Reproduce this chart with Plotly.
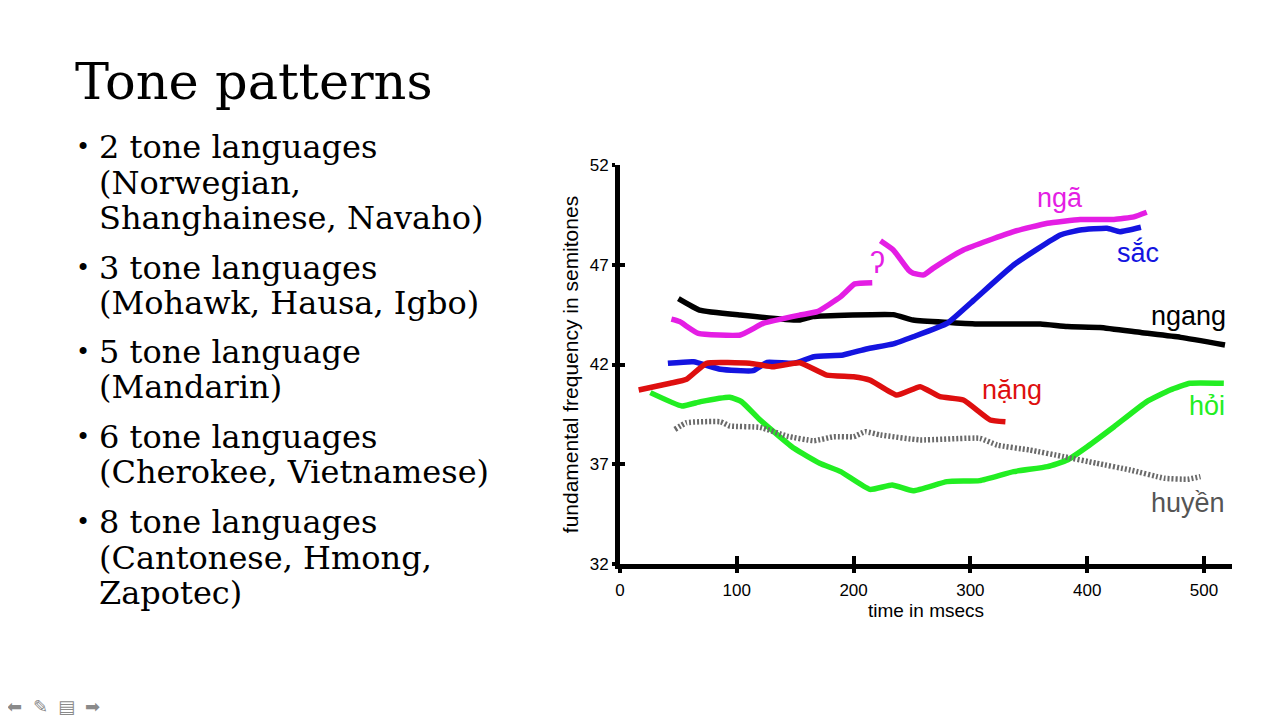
import plotly.graph_objects as go

# ---- data (time in ms, fundamental frequency in semitones) ----
ngang_t = [50, 68, 103, 154, 165, 234, 251, 306, 360, 383, 411, 446, 480, 518]
ngang_f = [45.3, 44.73, 44.48, 44.23, 44.4, 44.5, 44.23, 44.03, 44.03, 43.9, 43.86, 43.6, 43.36, 42.98]

nga_t = [44, 51, 67, 103, 123, 154, 169, 189, 201, 216, None,
         223, 234, 247, 251, 260, 268, 294, 337, 366, 394, 423, 440, 451]
nga_f = [44.27, 44.15, 43.56, 43.48, 44.07, 44.48, 44.65, 45.4, 46.04, 46.1, None,
         48.2, 47.74, 46.74, 46.57, 46.49, 46.82, 47.74, 48.66, 49.08, 49.27, 49.27, 49.4, 49.63]

sac_t = [41, 63, 86, 114, 126, 149, 166, 191, 211, 234, 251, 280, 303, 337, 377, 394, 417, 428, 446]
sac_f = [42.06, 42.14, 41.76, 41.69, 42.11, 42.06, 42.39, 42.48, 42.78, 43.03, 43.39, 44.06,
         45.23, 46.99, 48.49, 48.74, 48.83, 48.66, 48.88]

nang_t = [16, 43, 57, 74, 111, 131, 154, 177, 200, 214, 237, 257, 274, 294, 317, 330]
nang_f = [40.72, 41.06, 41.26, 42.06, 42.06, 41.89, 42.09, 41.47, 41.39, 41.22, 40.47, 40.89,
          40.39, 40.22, 39.22, 39.13]

hoi_t = [26, 53, 69, 94, 104, 120, 149, 171, 189, 214, 233, 251, 280, 308, 337, 366, 383,
         400, 423, 451, 471, 488, 517]
hoi_f = [40.59, 39.92, 40.14, 40.36, 40.14, 39.22, 37.8, 37.05, 36.63, 35.74, 35.96, 35.67,
         36.13, 36.18, 36.63, 36.88, 37.21, 37.88, 38.88, 40.14, 40.72, 41.06, 41.06]

huyen_t = [47, 57, 86, 94, 120, 143, 166, 183, 200, 210, 223, 257, 308, 323, 351, 380, 408,
           437, 466, 486, 497]
huyen_f = [38.75, 39.08, 39.13, 38.92, 38.85, 38.41, 38.18, 38.38, 38.38, 38.63, 38.47, 38.22,
           38.3, 37.96, 37.71, 37.38, 37.05, 36.71, 36.3, 36.25, 36.38]

x_ticks = [0, 100, 200, 300, 400, 500]
y_ticks = [32, 37, 42, 47, 52]

title_text = "Tone patterns"
bullets = [
    ["2 tone languages", "(Norwegian,", "Shanghainese, Navaho)"],
    ["3 tone languages", "(Mohawk, Hausa, Igbo)"],
    ["5 tone language", "(Mandarin)"],
    ["6 tone languages", "(Cherokee, Vietnamese)"],
    ["8 tone languages", "(Cantonese, Hmong,", "Zapotec)"],
]

# ---- layout geometry (pixels); page body has an 8px margin ----
OFF = 8
W, H = 1280 - OFF, 720 - OFF
L = 620 - OFF
T = 165 - OFF
R = W - (1232 - OFF)
B = H - (564 - OFF)
PW, PH = W - L - R, H - T - B


def px(xs):
    return (xs - OFF - L) / PW


def py(ys):
    return (H - B - (ys - OFF)) / PH


fig = go.Figure()

series = [
    (ngang_t, ngang_f, "#000000", "solid"),
    (nga_t, nga_f, "#e41ee4", "solid"),
    (sac_t, sac_f, "#1414e0", "solid"),
    (nang_t, nang_f, "#de0f0f", "solid"),
    (hoi_t, hoi_f, "#22ee22", "solid"),
    (huyen_t, huyen_f, "#6a6a6a", "2px,2px"),
]
for t, f, c, d in series:
    fig.add_trace(go.Scatter(x=t, y=f, mode="lines", connectgaps=False,
                             line=dict(color=c, width=5.5, dash=d, shape="spline", smoothing=0.4),
                             showlegend=False, hoverinfo="skip"))

# invisible trace on overlay axes so inner tick halves are drawn
fig.add_trace(go.Scatter(x=[0], y=[32], xaxis="x2", yaxis="y2", mode="markers",
                         marker=dict(opacity=0), showlegend=False, hoverinfo="skip"))

sans = "Liberation Sans, Arial, sans-serif"
tickfont = dict(family=sans, size=17, color="#000")
fig.update_layout(
    width=W, height=H,
    margin=dict(l=L, r=R, t=T, b=B),
    paper_bgcolor="white", plot_bgcolor="white",
    xaxis=dict(range=[0, 524], tickvals=x_ticks, showgrid=False, zeroline=False,
               showline=True, linewidth=5, linecolor="black",
               ticks="outside", ticklen=4, tickwidth=4, tickcolor="black",
               tickfont=tickfont, ticklabelstandoff=3,
               title=dict(text="time in msecs", standoff=0,
                          font=dict(family=sans, size=19, color="black"))),
    yaxis=dict(range=[32, 52], tickvals=y_ticks, showgrid=False, zeroline=False,
               showline=True, linewidth=5, linecolor="black",
               ticks="outside", ticklen=3, tickwidth=4, tickcolor="black",
               tickfont=tickfont, ticklabelstandoff=0,
               title=dict(text="fundamental frequency in semitones", standoff=7,
                          font=dict(family=sans, size=21, color="black"))),
    xaxis2=dict(range=[0, 524], overlaying="x", matches="x", tickvals=x_ticks, showticklabels=False,
                showgrid=False, zeroline=False, ticks="inside", ticklen=8, tickwidth=4,
                tickcolor="black", side="bottom"),
    yaxis2=dict(range=[32, 52], overlaying="y", matches="y", tickvals=y_ticks, showticklabels=False,
                showgrid=False, zeroline=False, ticks="inside", ticklen=5, tickwidth=4,
                tickcolor="black", side="left"),
)

labels = [
    ("ngã", 1060, 198, "#e41ee4", 27),
    ("sắc", 1138, 252, "#1414e0", 27),
    ("ngang", 1188, 316, "#000000", 27),
    ("nặng", 1012, 390, "#de0f0f", 27),
    ("hỏi", 1207, 406, "#22ee22", 27),
    ("huyền", 1188, 503, "#555555", 27),
    ("ʔ", 877, 262, "#e41ee4", 30),
]
for txt, x0, y0, col, sz in labels:
    fig.add_annotation(text=txt, x=px(x0), y=py(y0), xref="paper", yref="paper",
                       showarrow=False, xanchor="center", yanchor="middle",
                       font=dict(family=sans, size=sz, color=col))

serif = "DejaVu Serif, serif"
fig.add_annotation(text=title_text, x=px(73), y=py(82), xref="paper", yref="paper",
                   showarrow=False, xanchor="left", yanchor="middle",
                   font=dict(family=serif, size=51, color="black"))

line_y = [[147, 183, 218], [268, 303], [352, 387], [437, 472], [522, 558, 593]]
for group, ys in zip(bullets, line_y):
    fig.add_annotation(text="•", x=px(74), y=py(ys[0]), xref="paper", yref="paper",
                       showarrow=False, xanchor="left", yanchor="middle",
                       font=dict(family=serif, size=24, color="black"))
    for line, yy in zip(group, ys):
        fig.add_annotation(text=line, x=px(97), y=py(yy), xref="paper", yref="paper",
                           showarrow=False, xanchor="left", yanchor="middle",
                           font=dict(family=serif, size=32, color="black"))

for sym, xs in zip(["⬅", "✎", "▤", "➡"], [14, 40, 66, 92]):
    fig.add_annotation(text=sym, x=px(xs), y=py(706), xref="paper", yref="paper",
                       showarrow=False, xanchor="center", yanchor="middle",
                       font=dict(family="DejaVu Sans", size=18, color="#8a8a8a"))

fig.write_html("out.html")
